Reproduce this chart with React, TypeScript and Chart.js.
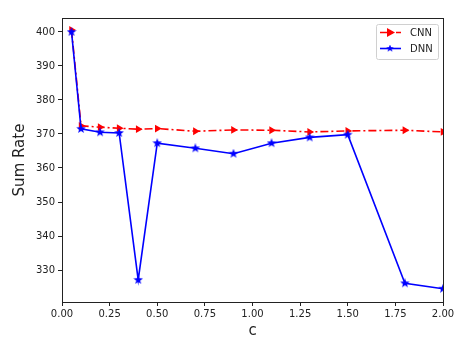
import React, { useEffect, useRef } from "react";
import { Chart, registerables } from "chart.js";
Chart.register(...registerables);

const xValues = [0.05, 0.1, 0.2, 0.3, 0.4, 0.5, 0.7, 0.9, 1.1, 1.3, 1.5, 1.8, 2.0];
const cnnValues = [400.6, 372.4, 372.0, 371.7, 371.4, 371.6, 370.8, 371.2, 371.1, 370.6, 370.9, 371.1, 370.6];
const dnnValues = [400.0, 371.5, 370.5, 370.3, 327.1, 367.3, 365.8, 364.2, 367.3, 369.0, 369.8, 326.1, 324.5];
const xTicks = [0, 0.25, 0.5, 0.75, 1.0, 1.25, 1.5, 1.75, 2.0];
const yTicks = [330, 340, 350, 360, 370, 380, 390, 400];
const seriesNames = ["CNN", "DNN"];
const xTitle = "c";
const yTitle = "Sum Rate";

const FONT = "'DejaVu Sans', sans-serif";

function makeStar(color: string, size: number): HTMLCanvasElement {
  const c = document.createElement("canvas");
  c.width = size;
  c.height = size;
  const ctx = c.getContext("2d")!;
  const cx = size / 2, cy = size / 2;
  const ro = size / 2, ri = ro * 0.42;
  ctx.beginPath();
  for (let i = 0; i < 10; i++) {
    const r = i % 2 === 0 ? ro : ri;
    const a = -Math.PI / 2 + (i * Math.PI) / 5;
    const px = cx + r * Math.cos(a), py = cy + r * Math.sin(a);
    if (i === 0) ctx.moveTo(px, py);
    else ctx.lineTo(px, py);
  }
  ctx.closePath();
  ctx.fillStyle = color;
  ctx.fill();
  return c;
}

function drawTriangleRight(ctx: CanvasRenderingContext2D, x: number, y: number, r: number, color: string) {
  ctx.save();
  ctx.beginPath();
  ctx.moveTo(x + r, y);
  ctx.lineTo(x - r * 0.6, y - r * 0.9);
  ctx.lineTo(x - r * 0.6, y + r * 0.9);
  ctx.closePath();
  ctx.fillStyle = color;
  ctx.fill();
  ctx.restore();
}

export default function App() {
  const ref = useRef<HTMLCanvasElement>(null);
  useEffect(() => {
    const canvas = ref.current!;
    const star = makeStar("#0000ff", 10);

    const frame = {
      id: "frame",
      afterDatasetsDraw(chart: any) {
        const { ctx, chartArea: a } = chart;
        ctx.save();
        ctx.strokeStyle = "#222";
        ctx.lineWidth = 1;
        ctx.strokeRect(Math.round(a.left) + 0.5, Math.round(a.top) + 0.5, Math.round(a.right - a.left), Math.round(a.bottom - a.top));
        ctx.restore();

        // legend
        const bx = 376, by = 24, bw = 62, bh = 35;
        ctx.save();
        ctx.fillStyle = "rgba(255,255,255,0.85)";
        ctx.strokeStyle = "#d0d0d0";
        ctx.lineWidth = 1;
        ctx.beginPath();
        (ctx as any).roundRect(bx + 0.5, by + 0.5, bw, bh, 2);
        ctx.fill();
        ctx.stroke();
        ctx.font = `10px ${FONT}`;
        ctx.textBaseline = "middle";
        ctx.fillStyle = "#222";
        const y1 = 32.5, y2 = 48.5;
        ctx.strokeStyle = "#ff0000";
        ctx.lineWidth = 1.6;
        ctx.setLineDash([8, 3, 2, 3]);
        ctx.beginPath();
        ctx.moveTo(380, y1);
        ctx.lineTo(401, y1);
        ctx.stroke();
        ctx.setLineDash([]);
        drawTriangleRight(ctx, 390, y1, 5, "#ff0000");
        ctx.fillText(seriesNames[0], 410, y1 + 0.5);
        ctx.strokeStyle = "#0000ff";
        ctx.beginPath();
        ctx.moveTo(380, y2);
        ctx.lineTo(401, y2);
        ctx.stroke();
        ctx.drawImage(star, 390 - 4, y2 - 4, 8, 8);
        ctx.fillStyle = "#222";
        ctx.fillText(seriesNames[1], 410, y2 + 0.5);
        ctx.restore();
      },
    };

    const chart = new Chart(canvas, {
      type: "line",
      data: {
        datasets: [
          {
            label: seriesNames[0],
            data: xValues.map((x, i) => ({ x, y: cnnValues[i] })),
            borderColor: "#ff0000",
            backgroundColor: "#ff0000",
            borderWidth: 1.6,
            borderDash: [8, 3, 2, 3],
            pointStyle: "triangle",
            pointRotation: 90,
            pointRadius: 4.5,
            pointBorderWidth: 0,
            tension: 0,
            clip: 0,
            order: 1,
          } as any,
          {
            label: seriesNames[1],
            data: xValues.map((x, i) => ({ x, y: dnnValues[i] })),
            borderColor: "#0000ff",
            backgroundColor: "#0000ff",
            borderWidth: 1.6,
            pointStyle: star,
            pointRadius: 5,
            tension: 0,
            clip: 0,
            order: 0,
          } as any,
        ],
      },
      options: {
        animation: false,
        responsive: false,
        layout: { padding: { left: 0, top: 18, right: 31, bottom: 0 } },
        plugins: { legend: { display: false }, tooltip: { enabled: false } },
        scales: {
          x: {
            type: "linear",
            min: 0,
            max: 2,
            afterBuildTicks: (s: any) => {
              s.ticks = xTicks.map((v) => ({ value: v }));
            },
            afterFit: (s: any) => {
              s.height = 40;
            },
            ticks: {
              font: { family: FONT, size: 10 },
              color: "#222",
              padding: 2,
              maxRotation: 0,
              autoSkip: false,
              callback: (v: any) => Number(v).toFixed(2),
            },
            grid: { drawOnChartArea: false, drawTicks: true, tickLength: 4, color: "#222", tickColor: "#222" },
            border: { display: false },
            title: { display: true, text: xTitle, font: { family: FONT, size: 15 }, color: "#222", padding: { top: 0, bottom: 2 } },
          },
          y: {
            type: "linear",
            min: 320.6,
            max: 404.1,
            afterBuildTicks: (s: any) => {
              s.ticks = yTicks.map((v) => ({ value: v }));
            },
            afterFit: (s: any) => {
              s.width = 62;
            },
            ticks: {
              font: { family: FONT, size: 10 },
              color: "#222",
              padding: 3,
              autoSkip: false,
              callback: (v: any) => String(v),
            },
            grid: { drawOnChartArea: false, drawTicks: true, tickLength: 4, color: "#222", tickColor: "#222" },
            border: { display: false },
            title: { display: true, text: yTitle, font: { family: FONT, size: 15 }, color: "#222", padding: { top: 11, bottom: 0 } },
          },
        },
      } as any,
      plugins: [frame],
    });
    return () => chart.destroy();
  }, []);
  return (
    <div style={{ position: "fixed", left: 0, top: 0, width: 474, height: 342, background: "#fff" }}>
      <canvas ref={ref} width={474} height={342} style={{ display: "block", width: 474, height: 342 }} />
    </div>
  );
}
